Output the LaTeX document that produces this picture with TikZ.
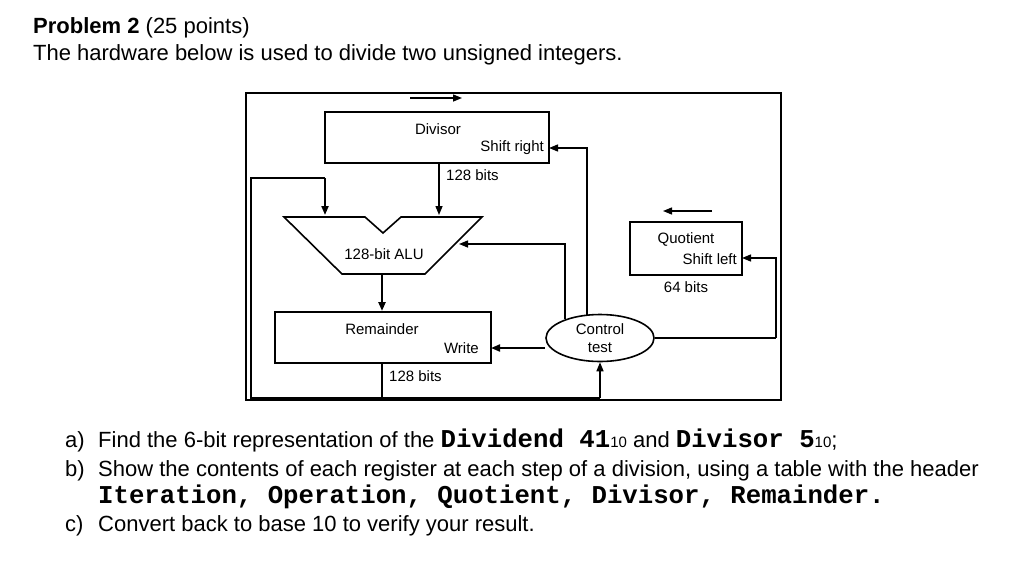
\documentclass[tikz,border=0pt]{standalone}
\usepackage{fontspec}
\setmainfont{Liberation Sans}
\setmonofont{Liberation Mono}
\usetikzlibrary{arrows.meta,shapes.geometric}
\newcommand{\mybig}[1]{{\fontsize{25.7}{24}\selectfont\texttt{\textbf{#1}}}}
\begin{document}
\begin{tikzpicture}[x=1pt,y=-1pt,
  lab/.style={font=\fontsize{15}{16}\selectfont,inner sep=0pt},
  txt/.style={font=\fontsize{22}{24}\selectfont,anchor=base west,inner sep=0pt},
  box/.style={draw,line width=1.6pt},
  ln/.style={line width=1.4pt},
  thick2/.style={line width=2.6pt},
  arr/.style={ln,-{Triangle[length=9pt,width=7pt]}}]
\useasboundingbox (0,0) rectangle (1024,560);
\node[txt] (t1) at (33,33) {\textbf{Problem 2} (25 points)};
\node[txt] (t2) at (33,60) {The hardware below is used to divide two unsigned integers.};
% frame
\draw[line width=1.8pt] (246,93) rectangle (781,400);
% divisor
\draw[box] (325,112) rectangle (549,163);
\coordinate (divR) at (549,148);
\node[lab] (divT) at (438,129) {Divisor};
\node[lab,anchor=east] (sr) at (544,148) {Shift right};
\coordinate (a1) at (410,98); \coordinate (a2) at (462,98);
\draw[arr] (a1) -- (a2);
% ALU
\draw[box] (284,217) -- (365,217) -- (383,233) -- (401,217) -- (482,217) -- (425,274) -- (342,274) -- cycle;
\node[lab] (alu) at (384,254) {128-bit ALU};
\coordinate (aluR) at (459,241);
% divisor -> alu
\coordinate (d1) at (439,163); \coordinate (d2) at (439,215);
\draw[arr] (d1) -- (d2);
\node[lab,anchor=west] (b1) at (446,175) {128 bits};
% remainder
\draw[box] (275,312) rectangle (491,363);
\node[lab] (remT) at (382,329) {Remainder};
\node[lab,anchor=east] (wr) at (479,348) {Write};
\coordinate (remR) at (491,348);
\coordinate (r1) at (382,274); \coordinate (r2) at (382,311);
\draw[arr,thick2] (r1) -- (r2);
\node[lab,anchor=west] (b2) at (389,376) {128 bits};
% quotient
\draw[box] (630,222) rectangle (742,275);
\node[lab] (qT) at (686,239) {Quotient};
\node[lab,anchor=east] (sl) at (737,259) {Shift left};
\node[lab] (b3) at (686,287) {64 bits};
\coordinate (q1) at (712,211); \coordinate (q2) at (663,211);
\draw[arr] (q1) -- (q2);
% control
\node[draw,ellipse,line width=1.6pt,minimum width=108pt,minimum height=47pt,inner sep=0pt,align=center,
  font=\fontsize{15}{18}\selectfont] (ctl) at (600,338) {Control\\test};
% connectors
\coordinate (c1) at (565,319); \coordinate (c2) at (565,244);
\draw[arr] (c1) -- (c2) -- (aluR |- c2);
\coordinate (c3) at (587,315); \coordinate (c4) at (587,148);
\draw[arr] (c3) -- (c4) -- (divR);
\draw[arr,line width=2pt] (ctl.west |- remR) -- (remR);
\coordinate (c5) at (776,338); \coordinate (c6) at (776,258); \coordinate (qR) at (742,258);
\draw[ln] (ctl.east) -- (c5);
\draw[arr] (c5) -- (c6) -- (qR);
% remainder feedback
\coordinate (f1) at (382,363); \coordinate (f2) at (382,398); \coordinate (f3) at (251,398);
\coordinate (f4) at (251,178); \coordinate (f5) at (325,178); \coordinate (f6) at (325,215);
\draw[thick2] (f1) -- (f2);
\draw[thick2] (f2) -- (f3) -- (f4) -- (f5);
\draw[arr,line width=2pt] (f5) -- (f6);
\coordinate (f7) at (600,398);
\draw[thick2] (f2) -- (f7);
\draw[arr] (f7) -- (ctl.south);
% questions
\node[txt] (la) at (65,447) {a)};
\node[txt] (qa) at (98,447) {Find the 6-bit representation of the \mybig{Dividend 41}{\fontsize{15}{16}\selectfont 10} and \mybig{Divisor 5}{\fontsize{15}{16}\selectfont 10};};
\node[txt] (lb) at (65,476) {b)};
\node[txt] (qb) at (98,476) {Show the contents of each register at each step of a division, using a table with the header};
\node[txt] (qb2) at (98,503) {\mybig{Iteration, Operation, Quotient, Divisor, Remainder.}};
\node[txt] (lc) at (65,531) {c)};
\node[txt] (qc) at (98,531) {Convert back to base 10 to verify your result.};
\end{tikzpicture}
\end{document}
